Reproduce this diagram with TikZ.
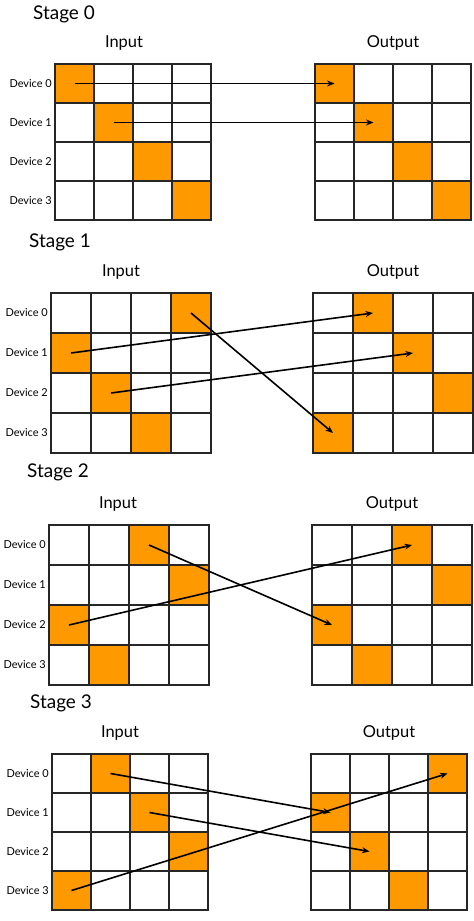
\documentclass[tikz,border=0pt]{standalone}
\usepackage{fontspec}
\setmainfont{Lato}
\usetikzlibrary{arrows.meta}
\definecolor{cellorange}{HTML}{FF9900}
\newcommand\mygrid[6]{%
  % #1 name, #2 left x, #3 top y, #4 hot columns per row, #5 labels (1/0), #6 cell size
  \foreach \r in {0,...,3}{%
    \pgfmathtruncatemacro\hc{{#4}[\r]}%
    \foreach \c in {0,...,3}{%
      \ifnum\c=\hc\relax\def\st{hot}\else\def\st{cell}\fi
      \node[\st, minimum size=#6bp] (#1-\r-\c) at ({#2+(\c+0.5)*#6},{#3+(\r+0.5)*#6}) {};
    }%
    \ifnum#5=1\relax
      \node[devlabel] (#1-lab\r) at ({#2-3},{#3+(\r+0.5)*#6}) {Device \r};
    \fi
  }%
  \foreach \r in {0,...,3}{%
    \foreach \c in {0,...,3}{%
      \draw[gridline] (#1-\r-\c.north west) rectangle (#1-\r-\c.south east);
    }%
  }%
}
\begin{document}
\begin{tikzpicture}[x=1bp,y=-1bp,
  cell/.style={fill=white, inner sep=0pt, outer sep=0pt},
  hot/.style={cell, fill=cellorange},
  gridline/.style={draw=black!85, line width=1.6bp},
  stagelabel/.style={font=\fontsize{19}{22}\selectfont, anchor=base west, inner sep=0pt},
  headlabel/.style={font=\fontsize{16.5}{20}\selectfont, anchor=base, inner sep=0pt},
  devlabel/.style={font=\fontsize{11}{13}\selectfont, anchor=east, inner sep=0pt},
  flow/.style={-{Stealth[length=7.5bp,width=6bp]}, line width=1.6bp, black}]
\useasboundingbox (0,0) rectangle (474,921);
\fill[white] (0,0) rectangle (474,921);

% Stage 0
\node[stagelabel] (st0) at (33,19) {Stage 0};
\node[headlabel] (in0) at (124,47) {Input};
\node[headlabel] (out0) at (393,47) {Output};
\mygrid{s0i}{55}{64}{0,1,2,3}{1}{39}
\mygrid{s0o}{315}{64}{0,1,2,3}{0}{39}
\draw[flow] (s0i-0-0.center) -- (s0o-0-0.center);
\draw[flow] (s0i-1-1.center) -- (s0o-1-1.center);

% Stage 1
\node[stagelabel] (st1) at (29,247) {Stage 1};
\node[headlabel] (in1) at (121,276) {Input};
\node[headlabel] (out1) at (393,276) {Output};
\mygrid{s1i}{51}{293}{3,0,1,2}{1}{40}
\mygrid{s1o}{313}{293}{1,2,3,0}{0}{40}
\draw[flow] (s1i-0-3.center) -- (s1o-3-0.center);
\draw[flow] (s1i-1-0.center) -- (s1o-0-1.center);
\draw[flow] (s1i-2-1.center) -- (s1o-1-2.center);

% Stage 2
\node[stagelabel] (st2) at (27,477) {Stage 2};
\node[headlabel] (in2) at (118,508) {Input};
\node[headlabel] (out2) at (392,508) {Output};
\mygrid{s2i}{49}{525}{2,3,0,1}{1}{40}
\mygrid{s2o}{312}{525}{2,3,0,1}{0}{40}
\draw[flow] (s2i-0-2.center) -- (s2o-2-0.center);
\draw[flow] (s2i-2-0.center) -- (s2o-0-2.center);

% Stage 3
\node[stagelabel] (st3) at (30,708) {Stage 3};
\node[headlabel] (in3) at (120,737) {Input};
\node[headlabel] (out3) at (389,737) {Output};
\mygrid{s3i}{52}{754}{1,2,3,0}{1}{39}
\mygrid{s3o}{311}{754}{3,0,1,2}{0}{39}
\draw[flow] (s3i-0-1.center) -- (s3o-1-0.center);
\draw[flow] (s3i-1-2.center) -- (s3o-2-1.center);
\draw[flow] (s3i-3-0.center) -- (s3o-0-3.center);
\end{tikzpicture}
\end{document}
